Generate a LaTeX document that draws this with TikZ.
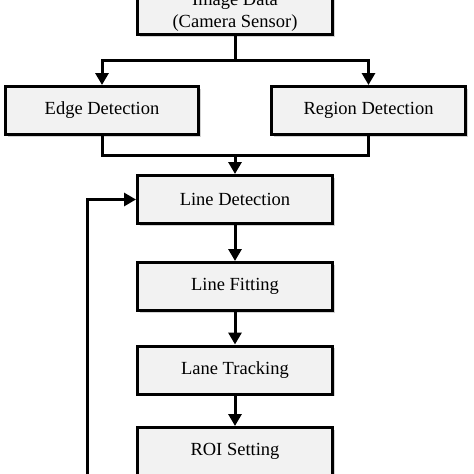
\documentclass[tikz,border=0pt]{standalone}
\usepackage{fontspec}
\setmainfont{Liberation Serif}
\usetikzlibrary{arrows.meta,shadows,calc}
\begin{document}
\begin{tikzpicture}[x=1pt,y=-1pt,
  box/.style={draw=black,line width=3pt,fill=gray!10,minimum width=195pt,minimum height=48pt,
    inner sep=0pt,font=\fontsize{18.5}{22}\selectfont,align=center,
    drop shadow={shadow xshift=2pt,shadow yshift=-2pt,opacity=0.35,fill=gray}},
  conn/.style={line width=3pt,-{Triangle[width=13pt,length=12pt]}},
  plain/.style={line width=3pt}]
\useasboundingbox (0,0) rectangle (474,474);
\node[box,minimum height=44pt] (img) at (235,12.5) {Image Data\\(Camera Sensor)};
\node[box,minimum width=193pt] (edge) at (102,110.5) {Edge Detection};
\node[box,minimum width=194pt] (reg) at (368.5,110.5) {Region Detection};
\node[box] (ld) at (235,199.5) {Line Detection};
\node[box] (lf) at (235,286.5) {Line Fitting};
\node[box] (lt) at (235,370) {Lane Tracking};
\node[box] (roi) at (235,451.5) {ROI Setting};
\coordinate (split) at (235,60);
\coordinate (join) at (235,155);
\coordinate (fb) at (87,480);
\draw[plain] (img.south) -- (split);
\draw[conn] (split) -| (edge.north);
\draw[conn] (split) -| (reg.north);
\draw[plain] (edge.south) |- (join);
\draw[plain] (reg.south) |- (join);
\draw[conn] (join) -- (ld.north);
\draw[conn] (ld) -- (lf);
\draw[conn] (lf) -- (lt);
\draw[conn] (lt) -- (roi);
\draw[conn] (fb) |- (ld.west);
\end{tikzpicture}
\end{document}
